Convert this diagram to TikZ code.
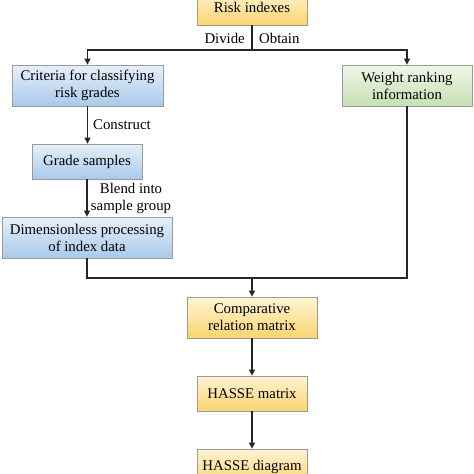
\documentclass[tikz,border=0pt]{standalone}
\usepackage{fontspec}
\setmainfont{Liberation Serif}
\usetikzlibrary{arrows.meta,positioning}
\definecolor{ytop}{HTML}{FFF4D6}
\definecolor{ybot}{HTML}{FAD46E}
\definecolor{btop}{HTML}{E6F0FA}
\definecolor{bbot}{HTML}{A9C9EA}
\definecolor{gtop}{HTML}{F0F7E9}
\definecolor{gbot}{HTML}{C6E0B2}
\definecolor{edge}{HTML}{9A9A9A}
\tikzset{
  box/.style={draw=edge, line width=0.8pt, inner sep=0pt, align=center,
    font=\fontsize{14.8}{17}\selectfont},
  ybox/.style={box, top color=ytop, bottom color=ybot},
  bbox/.style={box, top color=btop, bottom color=bbot},
  gbox/.style={box, top color=gtop, bottom color=gbot},
  conn/.style={line width=1.2pt, draw=black!85},
  arr/.style={conn, -{Triangle[length=6pt,width=6pt]}},
  lbl/.style={font=\fontsize{14.8}{17}\selectfont, inner sep=0pt, align=left}
}
\begin{document}
\begin{tikzpicture}[x=1pt,y=-1pt]
\useasboundingbox (0,0) rectangle (474,474);
\node[ybox, minimum width=110, minimum height=35] (risk) at (252,7.5) {Risk indexes};
\node[bbox, minimum width=151, minimum height=41] (crit) at (87.5,85.5) {Criteria for classifying\\risk grades};
\node[gbox, minimum width=130, minimum height=41] (weight) at (407,85.5) {Weight ranking\\information};
\node[bbox, minimum width=110, minimum height=35] (grade) at (87,161.5) {Grade samples};
\node[bbox, minimum width=170, minimum height=41] (dim) at (87,237.5) {Dimensionless processing\\of index data};
\node[ybox, minimum width=130, minimum height=41] (comp) at (252,317.5) {Comparative\\relation matrix};
\node[ybox, minimum width=110, minimum height=35] (hm) at (252,393.5) {HASSE matrix};
\node[ybox, minimum width=110, minimum height=35] (hd) at (252,466.5) {HASSE diagram};

\coordinate (split) at (252,50);
\coordinate (merge) at (252,278);

\draw[conn] (risk.south) -- (split);
\draw[arr] (split) -| (crit.north);
\draw[arr] (split) -| (weight.north);
\draw[arr] (crit.south) -- (crit.south |- grade.north);
\draw[arr] (grade.south) -- (grade.south |- dim.north);
\draw[conn] (dim.south) |- (merge);
\draw[conn] (weight.south) |- (merge);
\draw[arr] (merge) -- (comp.north);
\draw[arr] (comp.south) -- (hm.north);
\draw[arr] (hm.south) -- (hd.north);

\node[lbl, anchor=east] (ldiv) at (245,38) {Divide};
\node[lbl, anchor=west] (lobt) at (259,38) {Obtain};
\node[lbl, anchor=west] (lcon) at (93,125) {Construct};
\node[lbl, align=center, anchor=center] (lblend) at (131,198.5) {Blend into\\sample group};
\end{tikzpicture}
\end{document}
